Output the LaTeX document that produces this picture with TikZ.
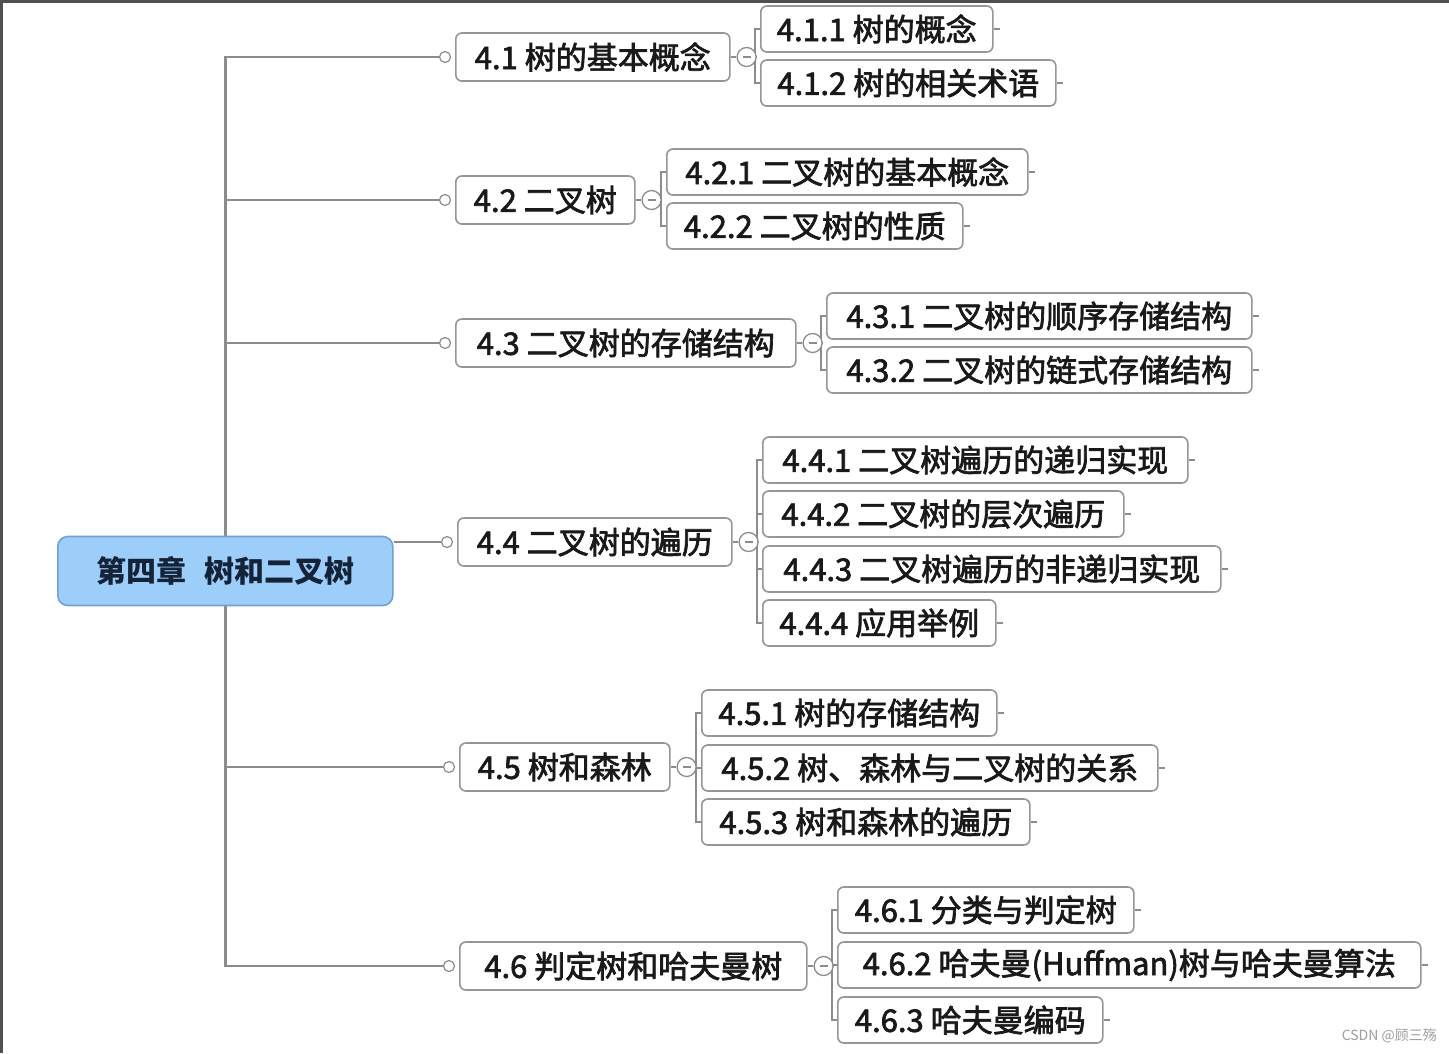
\documentclass[tikz,border=0pt]{standalone}
\usepackage{fontspec}
\newfontfamily\cjk[FakeBold=2.2]{Noto Sans CJK SC}
\newfontfamily\cjkplain{Noto Sans CJK SC}
\usetikzlibrary{backgrounds}
\definecolor{boxc}{RGB}{150,150,150}
\definecolor{linec}{RGB}{140,140,140}
\definecolor{txt}{RGB}{25,25,25}
\definecolor{rootfill}{RGB}{157,205,249}
\definecolor{rootdraw}{RGB}{112,160,212}
\definecolor{roottxt}{RGB}{20,35,55}
\definecolor{frame}{RGB}{80,80,80}
\tikzset{
  lvl/.style={draw=boxc, line width=1.6pt, rounded corners=6pt, fill=white,
    minimum height=48pt, inner sep=0pt, text=txt,
    font=\cjk\fontsize{31pt}{31pt}\selectfont},
  leafbox/.style={lvl, minimum height=46pt},
  rootbox/.style={draw=rootdraw, line width=1.6pt, rounded corners=10pt, fill=rootfill,
    minimum height=69pt, inner sep=0pt, text=roottxt,
    font=\cjkplain\bfseries\fontsize{30pt}{30pt}\selectfont},
  conn/.style={draw=linec, line width=2.4pt},
  brk/.style={draw=linec, line width=1.6pt},
  dotc/.style={circle, draw=linec, fill=white, line width=1.2pt, minimum size=11pt, inner sep=0pt},
  minusc/.style={circle, draw=linec, fill=white, line width=1.3pt, minimum size=19pt, inner sep=0pt}
}
\newcommand\minusbar{\textcolor{linec}{\rule{8pt}{1.6pt}}}
\begin{document}
\begin{tikzpicture}[x=1pt,y=-1pt]
\useasboundingbox (0,0) rectangle (1449,1053);

% root
\node[rootbox, minimum width=335pt, anchor=west] (root) at (57,571) {第四章\hspace{0.6em}树和二叉树};

% level 1
\node[lvl, minimum width=274pt, anchor=west] (n41) at (455,57) {4.1 树的基本概念};
\node[lvl, minimum width=179pt, anchor=west] (n42) at (455,200) {4.2 二叉树};
\node[lvl, minimum width=340pt, anchor=west] (n43) at (455,343) {4.3 二叉树的存储结构};
\node[lvl, minimum width=274pt, anchor=west] (n44) at (457,542) {4.4 二叉树的遍历};
\node[lvl, minimum width=210pt, anchor=west] (n45) at (459,767) {4.5 树和森林};
\node[lvl, minimum width=347pt, anchor=west] (n46) at (459,966) {4.6 判定树和哈夫曼树};

% connection dots and collapse marks
\foreach \n in {41,42,43,44,45,46}{
  \node[dotc] (d\n) at ([xshift=-10pt]n\n.west) {};
  \node[minusc] (m\n) at ([xshift=16pt]n\n.east) {\minusbar};
}

% leaves
\node[leafbox, minimum width=232pt, anchor=west] (n411) at (760,29) {4.1.1 树的概念};
\node[leafbox, minimum width=295pt, anchor=west] (n412) at (760,83) {4.1.2 树的相关术语};
\node[leafbox, minimum width=361pt, anchor=west] (n421) at (666,172) {4.2.1 二叉树的基本概念};
\node[leafbox, minimum width=296pt, anchor=west] (n422) at (666,226) {4.2.2 二叉树的性质};
\node[leafbox, minimum width=425pt, anchor=west] (n431) at (826,316) {4.3.1 二叉树的顺序存储结构};
\node[leafbox, minimum width=425pt, anchor=west] (n432) at (826,370) {4.3.2 二叉树的链式存储结构};
\node[leafbox, minimum width=425pt, anchor=west] (n441) at (762,460) {4.4.1 二叉树遍历的递归实现};
\node[leafbox, minimum width=361pt, anchor=west] (n442) at (762,514) {4.4.2 二叉树的层次遍历};
\node[leafbox, minimum width=458pt, anchor=west] (n443) at (762,569) {4.4.3 二叉树遍历的非递归实现};
\node[leafbox, minimum width=233pt, anchor=west] (n444) at (762,623) {4.4.4 应用举例};
\node[leafbox, minimum width=295pt, anchor=west] (n451) at (701,713) {4.5.1 树的存储结构};
\node[leafbox, minimum width=456pt, anchor=west] (n452) at (701,768) {4.5.2 树、森林与二叉树的关系};
\node[leafbox, minimum width=328pt, anchor=west] (n453) at (701,822) {4.5.3 树和森林的遍历};
\node[leafbox, minimum width=296pt, anchor=west] (n461) at (837,910) {4.6.1 分类与判定树};
\node[leafbox, minimum width=583pt, anchor=west] (n462) at (837,965) {4.6.2 哈夫曼(Huffman)树与哈夫曼算法};
\node[leafbox, minimum width=265pt, anchor=west] (n463) at (837,1020) {4.6.3 哈夫曼编码};

% watermark
\node[font=\cjkplain\fontsize{14pt}{14pt}\selectfont, text=gray!75, anchor=east, inner sep=0pt] (wm) at (1437,1036) {CSDN @顾三殇};

\begin{scope}[on background layer]
  \fill[white] (0,0) rectangle (1449,1053);
  \fill[frame] (0,0) rectangle (1449,2.5);
  \fill[frame] (0,0) rectangle (3,1053);
  % trunk
  \draw[conn] (d41) -- (root.center |- d41) -- (root.center |- d46) -- (d46);
  \foreach \n in {42,43,45}{ \draw[conn] (root.center |- d\n) -- (d\n); }
  \draw[conn] (root.east |- d44) -- (d44);
  % parent to collapse marks
  \foreach \n in {41,42,43,44,45,46}{ \draw[brk] (n\n.east) -- (m\n); }
  % brackets
  \draw[brk] (m41) -- ([xshift=-5pt]n411.west |- m41);
  \draw[brk] (n411.west) -- ++(-5,0) |- (n412.west);
  \draw[brk] (m42) -- ([xshift=-5pt]n421.west |- m42);
  \draw[brk] (n421.west) -- ++(-5,0) |- (n422.west);
  \draw[brk] (m43) -- ([xshift=-5pt]n431.west |- m43);
  \draw[brk] (n431.west) -- ++(-5,0) |- (n432.west);
  \draw[brk] (m44) -- ([xshift=-5pt]n441.west |- m44);
  \draw[brk] (n441.west) -- ++(-5,0) |- (n444.west);
  \draw[brk] (n442.west) -- ++(-5,0);
  \draw[brk] (n443.west) -- ++(-5,0);
  \draw[brk] (m45) -- ([xshift=-5pt]n451.west |- m45);
  \draw[brk] (n451.west) -- ++(-5,0) |- (n453.west);
  \draw[brk] (n452.west) -- ++(-5,0);
  \draw[brk] (m46) -- ([xshift=-5pt]n461.west |- m46);
  \draw[brk] (n461.west) -- ++(-5,0) |- (n463.west);
  \draw[brk] (n462.west) -- ++(-5,0);
  % leaf stubs
  \foreach \n in {411,412,421,422,431,432,441,442,443,444,451,452,453,461,462,463}{
    \draw[brk] (n\n.east) -- ++(6,0);
  }
\end{scope}
\end{tikzpicture}
\end{document}
